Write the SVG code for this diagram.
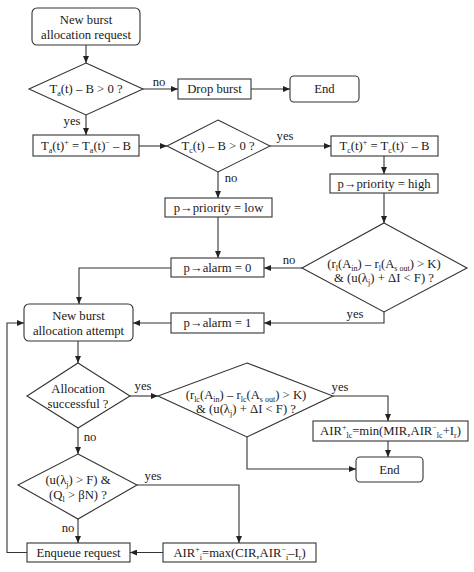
<svg xmlns="http://www.w3.org/2000/svg" width="474" height="572" viewBox="0 0 474 572">
<style>
.s{fill:#fff;stroke:#333;stroke-width:1.1}
.c{fill:none;stroke:#333;stroke-width:1.1}
text{font-family:"Liberation Serif","Times New Roman",serif;font-size:12.7px;fill:#1a1a1a;text-anchor:middle}
.sb{font-size:8px}
</style>
<defs>
<marker id="a" markerWidth="7" markerHeight="6" refX="7" refY="3" orient="auto" markerUnits="userSpaceOnUse">
<path d="M0,0 L7,3 L0,6 Z" fill="#222"/>
</marker>
</defs>
<rect width="474" height="572" fill="#fff"/>
<g id="connectors">
<path class="c" d="M86,45 V63" marker-end="url(#a)"/>
<path class="c" d="M143,89 H178" marker-end="url(#a)"/>
<path class="c" d="M251,89 H290" marker-end="url(#a)"/>
<path class="c" d="M86,115 V135" marker-end="url(#a)"/>
<path class="c" d="M139,146 H167" marker-end="url(#a)"/>
<path class="c" d="M270,146 H331" marker-end="url(#a)"/>
<path class="c" d="M384,156 V174" marker-end="url(#a)"/>
<path class="c" d="M384,193 V223" marker-end="url(#a)"/>
<path class="c" d="M218,172 V198" marker-end="url(#a)"/>
<path class="c" d="M218,217 V258" marker-end="url(#a)"/>
<path class="c" d="M302,268 H264" marker-end="url(#a)"/>
<path class="c" d="M384,312 V323 H264" marker-end="url(#a)"/>
<path class="c" d="M171,268 H79 V304" marker-end="url(#a)"/>
<path class="c" d="M171,323 H133" marker-end="url(#a)"/>
<path class="c" d="M78,341 V363" marker-end="url(#a)"/>
<path class="c" d="M130,396 H158" marker-end="url(#a)"/>
<path class="c" d="M333,396 H388 V421" marker-end="url(#a)"/>
<path class="c" d="M388,441 V457" marker-end="url(#a)"/>
<path class="c" d="M247,437 V469 H356" marker-end="url(#a)"/>
<path class="c" d="M78,428 V454" marker-end="url(#a)"/>
<path class="c" d="M137,485 H239 V543" marker-end="url(#a)"/>
<path class="c" d="M78,519 V543" marker-end="url(#a)"/>
<path class="c" d="M163,552.5 H130" marker-end="url(#a)"/>
<path class="c" d="M27,552.5 H7 V323 H24" marker-end="url(#a)"/>
<text x="159" y="86">no</text>
<text x="72" y="125">yes</text>
<text x="285" y="140">yes</text>
<text x="231" y="182">no</text>
<text x="289" y="264">no</text>
<text x="355" y="318">yes</text>
<text x="143" y="390">yes</text>
<text x="340" y="391">yes</text>
<text x="90" y="441">no</text>
<text x="153" y="480">yes</text>
<text x="68" y="532">no</text>
</g>
<g id="start">
<rect class="s" x="32" y="8" width="108" height="37" rx="5"/>
<text x="86" y="24">New burst</text>
<text x="86" y="39">allocation request</text>
</g>
<g id="d1">
<polygon class="s" points="86,63 143,89 86,115 29,89"/>
<text x="86" y="93">T<tspan class="sb" dy="3">a</tspan><tspan dy="-3">(t) – B &gt; 0 ?</tspan></text>
</g>
<g id="drop">
<rect class="s" x="178" y="79" width="73" height="20"/>
<text x="214.5" y="93">Drop burst</text>
</g>
<g id="end1">
<rect class="s" x="290" y="76" width="69" height="26" rx="4"/>
<text x="324.5" y="93">End</text>
</g>
<g id="ta">
<rect class="s" x="33" y="135" width="106" height="21"/>
<text x="86" y="150">T<tspan class="sb" dy="3">a</tspan><tspan dy="-3">(t)</tspan><tspan class="sb" dy="-5">+</tspan><tspan dy="5"> = T</tspan><tspan class="sb" dy="3">a</tspan><tspan dy="-3">(t)</tspan><tspan class="sb" dy="-5">−</tspan><tspan dy="5"> – B</tspan></text>
</g>
<g id="d2">
<polygon class="s" points="218,120 270,146 218,172 167,146"/>
<text x="218" y="150">T<tspan class="sb" dy="3">c</tspan><tspan dy="-3">(t) – B &gt; 0 ?</tspan></text>
</g>
<g id="tc">
<rect class="s" x="331" y="136" width="107" height="20"/>
<text x="384.5" y="150">T<tspan class="sb" dy="3">c</tspan><tspan dy="-3">(t)</tspan><tspan class="sb" dy="-5">+</tspan><tspan dy="5"> = T</tspan><tspan class="sb" dy="3">c</tspan><tspan dy="-3">(t)</tspan><tspan class="sb" dy="-5">−</tspan><tspan dy="5"> – B</tspan></text>
</g>
<g id="plow">
<rect class="s" x="165" y="198" width="107" height="19"/>
<text x="218.5" y="212">p→priority = low</text>
</g>
<g id="phigh">
<rect class="s" x="330" y="174" width="108" height="19"/>
<text x="384" y="188">p→priority = high</text>
</g>
<g id="d3">
<polygon class="s" points="384,223 467,268 384,312 302,268"/>
<text x="384" y="268">(r<tspan class="sb" dy="2.5">l</tspan><tspan dy="-2.5">(A</tspan><tspan class="sb" dy="2.5">in</tspan><tspan dy="-2.5">) – r</tspan><tspan class="sb" dy="2.5">l</tspan><tspan dy="-2.5">(A</tspan><tspan class="sb" dy="2.5">s out</tspan><tspan dy="-2.5">) &gt; K)</tspan></text>
<text x="384" y="282">&amp; (u(λ<tspan class="sb" dy="2.5">j</tspan><tspan dy="-2.5">) + ΔI &lt; F) ?</tspan></text>
</g>
<g id="alarm0">
<rect class="s" x="171" y="258" width="93" height="19"/>
<text x="217.5" y="272">p→alarm = 0</text>
</g>
<g id="alarm1">
<rect class="s" x="171" y="313" width="93" height="20"/>
<text x="217.5" y="327">p→alarm = 1</text>
</g>
<g id="attempt">
<rect class="s" x="24" y="304" width="109" height="37" rx="5"/>
<text x="78.5" y="320">New burst</text>
<text x="78.5" y="335">allocation attempt</text>
</g>
<g id="d4">
<polygon class="s" points="78,363 130,396 78,428 27,396"/>
<text x="78" y="393">Allocation</text>
<text x="78" y="408">successful ?</text>
</g>
<g id="d5">
<polygon class="s" points="247,363 333,396 247,437 158,396"/>
<text x="246" y="399">(r<tspan class="sb" dy="2.5">lc</tspan><tspan dy="-2.5">(A</tspan><tspan class="sb" dy="2.5">in</tspan><tspan dy="-2.5">) – r</tspan><tspan class="sb" dy="2.5">lc</tspan><tspan dy="-2.5">(A</tspan><tspan class="sb" dy="2.5">s out</tspan><tspan dy="-2.5">) &gt; K)</tspan></text>
<text x="246" y="413">&amp; (u(λ<tspan class="sb" dy="2.5">j</tspan><tspan dy="-2.5">) + ΔI &lt; F) ?</tspan></text>
</g>
<g id="airlc">
<rect class="s" x="313" y="421" width="155" height="20"/>
<text x="390.5" y="435">AIR<tspan class="sb" dy="-5">+</tspan><tspan class="sb" dy="8">lc</tspan><tspan dy="-3">=min(MIR,AIR</tspan><tspan class="sb" dy="-5">−</tspan><tspan class="sb" dy="8">lc</tspan><tspan dy="-3">+I</tspan><tspan class="sb" dy="3">r</tspan><tspan dy="-3">)</tspan></text>
</g>
<g id="end2">
<rect class="s" x="356" y="457" width="67" height="25" rx="4"/>
<text x="389.5" y="474">End</text>
</g>
<g id="d6">
<polygon class="s" points="78,454 137,485 78,519 18,485"/>
<text x="78" y="484">(u(λ<tspan class="sb" dy="3">j</tspan><tspan dy="-3">) &gt; F) &amp;</tspan></text>
<text x="78" y="499">(Q<tspan class="sb" dy="3">l</tspan><tspan dy="-3"> &gt; βN) ?</tspan></text>
</g>
<g id="enqueue">
<rect class="s" x="27" y="543" width="103" height="19"/>
<text x="78.5" y="557">Enqueue request</text>
</g>
<g id="airi">
<rect class="s" x="163" y="543" width="153" height="19"/>
<text x="239.5" y="557">AIR<tspan class="sb" dy="-5">+</tspan><tspan class="sb" dy="8">i</tspan><tspan dy="-3">=max(CIR,AIR</tspan><tspan class="sb" dy="-5">−</tspan><tspan class="sb" dy="8">i</tspan><tspan dy="-3">–I</tspan><tspan class="sb" dy="3">r</tspan><tspan dy="-3">)</tspan></text>
</g>
</svg>
